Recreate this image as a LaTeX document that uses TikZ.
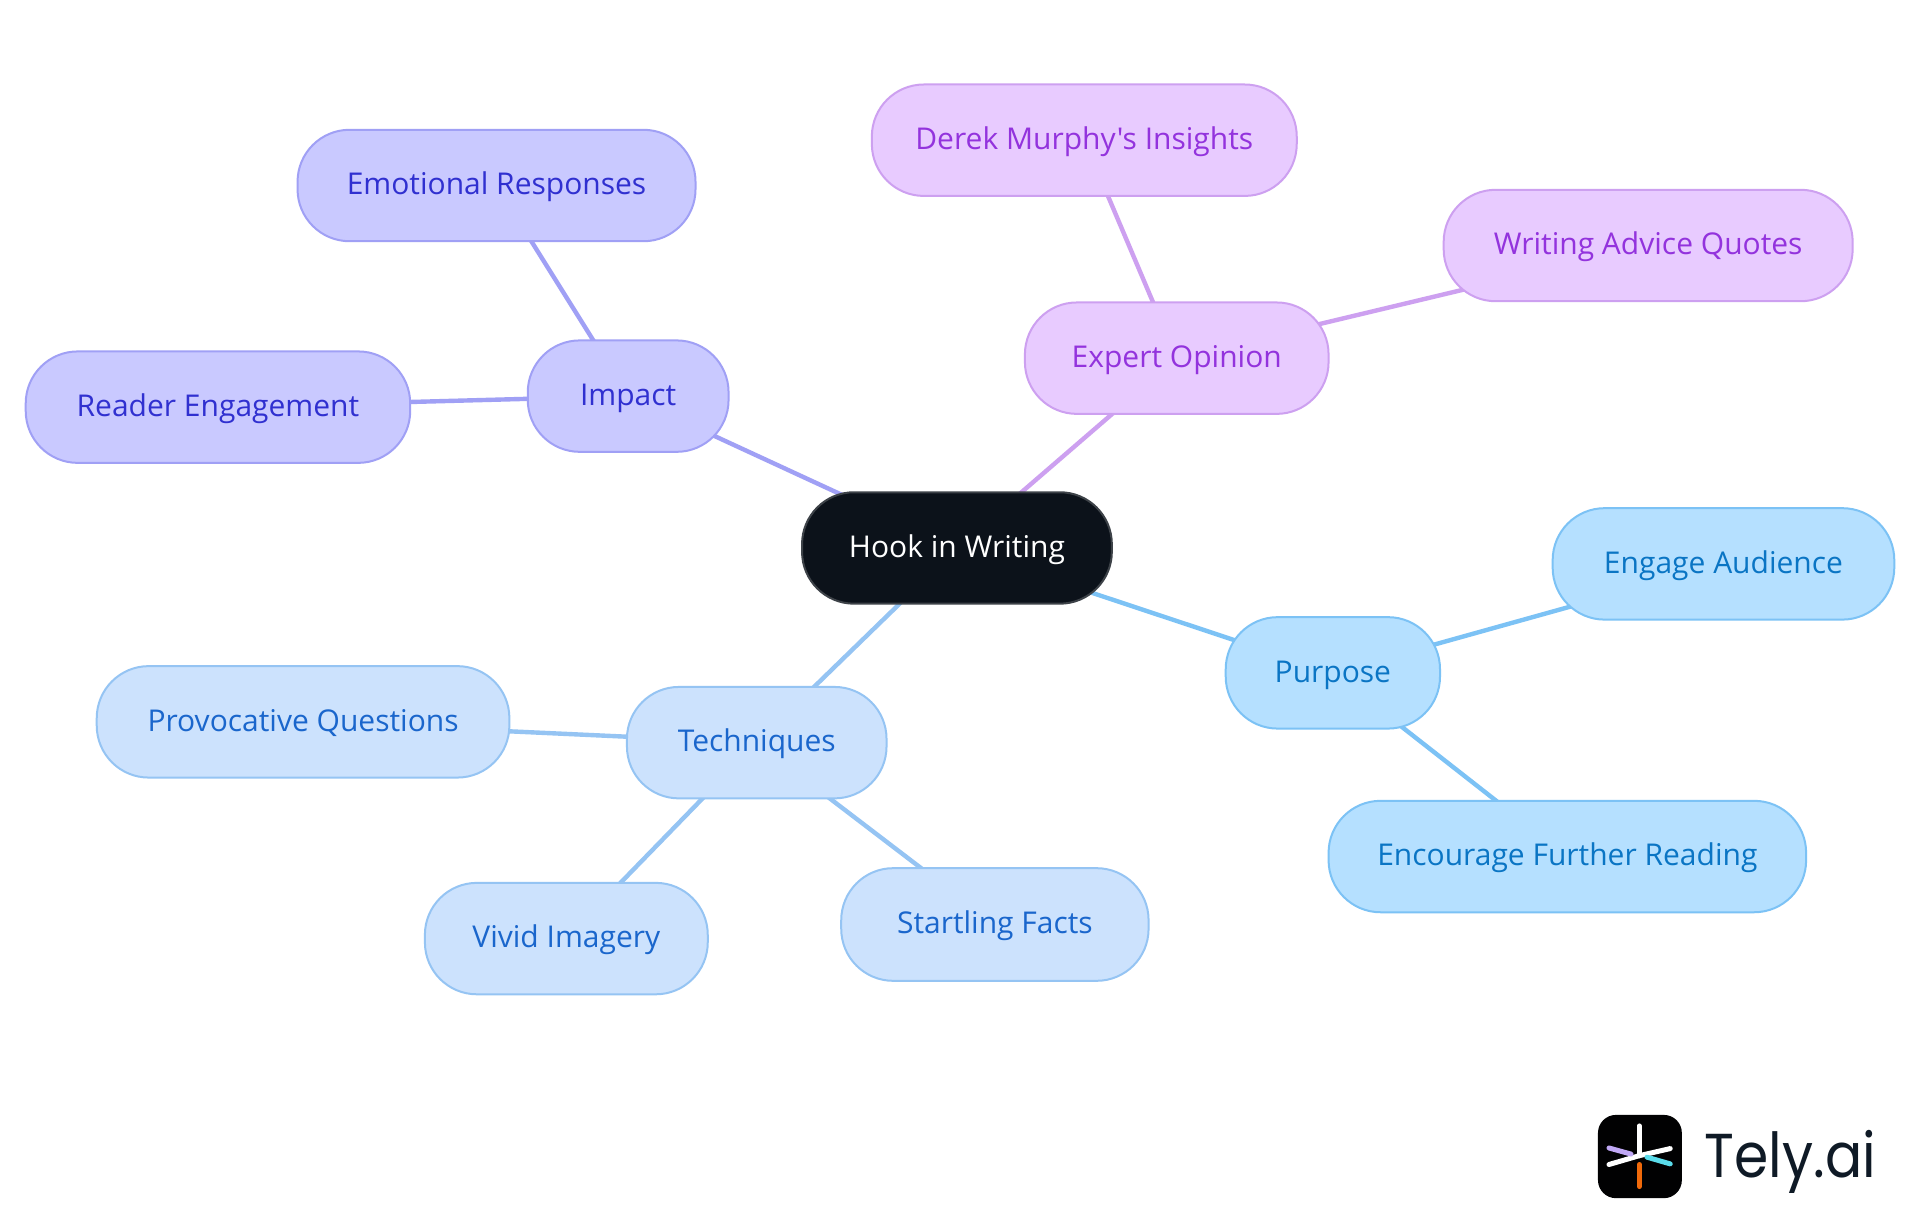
\documentclass[tikz,border=0pt]{standalone}
\usepackage{fontspec}
\usetikzlibrary{backgrounds}
\setmainfont[Ligatures=TeXOff]{Open Sans}
\newfontfamily\logofont[FakeStretch=0.89]{Poppins}
\definecolor{hookfill}{HTML}{0C121A}
\definecolor{hookline}{HTML}{3D4248}
\definecolor{impfill}{HTML}{C9C9FF}
\definecolor{impline}{HTML}{A0A0F5}
\definecolor{imptext}{HTML}{3030D0}
\definecolor{expfill}{HTML}{E8CBFF}
\definecolor{expline}{HTML}{CDA0F0}
\definecolor{exptext}{HTML}{9333DD}
\definecolor{purfill}{HTML}{B5E0FF}
\definecolor{purline}{HTML}{7CC2F5}
\definecolor{purtext}{HTML}{0A75C4}
\definecolor{tecfill}{HTML}{CCE2FD}
\definecolor{tecline}{HTML}{95C4F3}
\definecolor{tectext}{HTML}{1A66CC}
\definecolor{logoink}{HTML}{0F1A26}
\definecolor{spokepurple}{HTML}{C0A8F5}
\definecolor{spokecyan}{HTML}{5ADCEB}
\definecolor{spokeorange}{HTML}{F0690A}
\tikzset{
  x=0.61224pt,y=-0.61224pt,
  pill/.style={rectangle,rounded corners=26pt,line width=1pt,inner sep=0pt,outer sep=0pt,font=\fontsize{15}{18}\selectfont,text height=13.2pt,text depth=4pt},
  hooknode/.style={pill,fill=hookfill,draw=hookline,text=white},
  impnode/.style={pill,fill=impfill,draw=impline,text=imptext},
  expnode/.style={pill,fill=expfill,draw=expline,text=exptext},
  purnode/.style={pill,fill=purfill,draw=purline,text=purtext},
  tecnode/.style={pill,fill=tecfill,draw=tecline,text=tectext},
  link/.style={line width=2.2pt},
  spoke/.style={line width=2.5pt,line cap=round},
}
\newcommand{\pillnode}[7]{\node[#6,minimum width={(#3-#2)*0.61224pt},minimum height={(#5-#4)*0.61224pt}] (#1) at ({(#2+#3)/2},{(#4+#5)/2}) {#7};}
\begin{document}
\begin{tikzpicture}
\useasboundingbox (0,0) rectangle (1568,992.25);
\pillnode{hook}{655}{908}{402}{493}{hooknode}{Hook in Writing}
\pillnode{impact}{431}{595}{278}{369}{impnode}{Impact}
\pillnode{emotional}{243}{568}{106}{197}{impnode}{Emotional Responses}
\pillnode{reader}{21}{335}{287}{378}{impnode}{Reader Engagement}
\pillnode{expert}{837}{1085}{247}{338}{expnode}{Expert Opinion}
\pillnode{derek}{712}{1059}{69}{160}{expnode}{Derek Murphy's Insights}
\pillnode{quotes}{1179}{1513}{155}{246}{expnode}{Writing Advice Quotes}
\pillnode{purpose}{1001}{1176}{504}{595}{purnode}{Purpose}
\pillnode{engage}{1268}{1547}{415}{506}{purnode}{Engage Audience}
\pillnode{further}{1085}{1475}{654}{745}{purnode}{Encourage Further Reading}
\pillnode{tech}{512}{724}{561}{652}{tecnode}{Techniques}
\pillnode{provoke}{79}{416}{544}{635}{tecnode}{Provocative Questions}
\pillnode{vivid}{347}{578}{721}{812}{tecnode}{Vivid Imagery}
\pillnode{startling}{687}{938}{709}{801}{tecnode}{Startling Facts}
\begin{scope}[on background layer]
\fill[white] (0,0) rectangle (1568,992.25);
\draw[link,impline] (hook.center) -- (impact.center);
\draw[link,impline] (impact.center) -- (emotional.center);
\draw[link,impline] (impact.center) -- (reader.center);
\draw[link,expline] (hook.center) -- (expert.center);
\draw[link,expline] (expert.center) -- (derek.center);
\draw[link,expline] (expert.center) -- (quotes.center);
\draw[link,purline] (hook.center) -- (purpose.center);
\draw[link,purline] (purpose.center) -- (engage.center);
\draw[link,purline] (purpose.center) -- (further.center);
\draw[link,tecline] (hook.center) -- (tech.center);
\draw[link,tecline] (tech.center) -- (provoke.center);
\draw[link,tecline] (tech.center) -- (vivid.center);
\draw[link,tecline] (tech.center) -- (startling.center);
\end{scope}
% logo
\fill[black!95!logoink,rounded corners=9pt] (1305,910.5) rectangle (1373.5,978.5);
\coordinate (hub) at (1338.7,943.8);
\draw[spoke,white] (hub) -- (1338.7,919.5);
\draw[spoke,white] (hub) -- (1364,938);
\draw[spoke,white] (hub) -- (1314,951);
\draw[spoke,spokepurple] (1314,937.5) -- (1332,942.5);
\draw[spoke,spokecyan] (1364,950.5) -- (1345,945);
\draw[spoke,spokeorange] (1338.7,969) -- (1338.7,951);
\node[text=logoink,font=\logofont\fontsize{31}{36}\selectfont,anchor=base west,inner sep=0pt] (brand) at (1392,962) {Tely.ai};
\end{tikzpicture}
\end{document}
